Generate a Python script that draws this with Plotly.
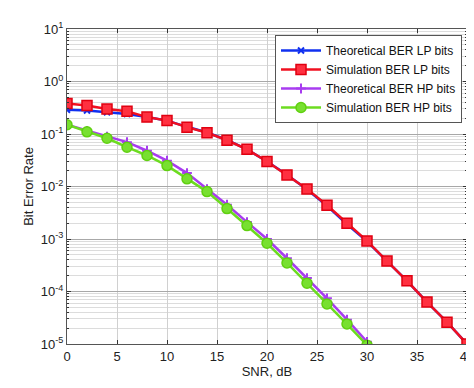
import plotly.graph_objects as go

snr_lp = list(range(0, 41, 2))
theo_lp = [0.29, 0.28, 0.26, 0.24, 0.21, 0.18, 0.137, 0.107, 0.077, 0.051, 0.030,
           0.0168, 0.0088, 0.0043, 0.0019, 9.0e-4, 3.8e-4, 1.6e-4, 6.3e-5, 2.6e-5, 1.0e-5]
sim_lp = [0.38, 0.35, 0.30, 0.27, 0.21, 0.18, 0.135, 0.106, 0.076, 0.051, 0.030,
          0.0166, 0.0090, 0.0044, 0.0020, 9.2e-4, 3.8e-4, 1.6e-4, 6.3e-5, 2.6e-5, 1.0e-5]

snr_hp = list(range(0, 31, 2))
theo_hp = [0.15, 0.115, 0.089, 0.070, 0.048, 0.031, 0.018, 0.0089, 0.0045, 0.0021,
           1.0e-3, 4.3e-4, 1.8e-4, 7.4e-5, 2.9e-5, 1.1e-5]
sim_hp = [0.15, 0.11, 0.083, 0.056, 0.039, 0.025, 0.014, 0.0080, 0.0038, 0.0018,
          8.3e-4, 3.5e-4, 1.44e-4, 5.8e-5, 2.4e-5, 9.5e-6]

x_ticks = [0, 5, 10, 15, 20, 25, 30, 35, 40]
y_tickvals = [1e-5, 1e-4, 1e-3, 1e-2, 1e-1, 1e0, 1e1]
y_ticktext = ["10<sup>-5</sup>", "10<sup>-4</sup>", "10<sup>-3</sup>", "10<sup>-2</sup>",
              "10<sup>-1</sup>", "10<sup>0</sup>", "10<sup>1</sup>"]

names = ["Theoretical BER LP bits", "Simulation BER LP bits",
         "Theoretical BER HP bits", "Simulation BER HP bits"]

fig = go.Figure()
fig.add_trace(go.Scatter(x=snr_lp, y=theo_lp, name=names[0], mode="lines+markers",
                         line=dict(color="#1030f0", width=2.5),
                         marker=dict(symbol="x-thin", size=6, line=dict(color="#1030f0", width=2))))
fig.add_trace(go.Scatter(x=snr_lp, y=sim_lp, name=names[1], mode="lines+markers",
                         line=dict(color="#f01020", width=2.5),
                         marker=dict(symbol="square", size=10, color="#ff3040",
                                     line=dict(color="#e00010", width=1.5))))
fig.add_trace(go.Scatter(x=snr_hp, y=theo_hp, name=names[2], mode="lines+markers",
                         line=dict(color="#a83cf0", width=2.5),
                         marker=dict(symbol="cross-thin", size=7, line=dict(color="#a83cf0", width=2))))
fig.add_trace(go.Scatter(x=snr_hp, y=sim_hp, name=names[3], mode="lines+markers",
                         line=dict(color="#6cdc20", width=2.5),
                         marker=dict(symbol="circle", size=10, color="#78e030",
                                     line=dict(color="#60d010", width=1.5))))

# page body has an 8px default margin, so the figure is sized to fit inside it
fig.update_layout(
    width=466, height=380,
    margin=dict(l=59, r=7, t=21, b=43.5),
    paper_bgcolor="white", plot_bgcolor="white",
    font=dict(family="Liberation Sans, Arial, sans-serif", size=13, color="#222"),
    legend=dict(x=0.9875, xanchor="right", y=0.981, yanchor="top",
                bgcolor="white", bordercolor="#555", borderwidth=1,
                font=dict(size=12, color="#111"), tracegroupgap=0,
                itemwidth=40),
    showlegend=True,
)
fig.update_xaxes(
    range=[0, 40], tickvals=x_ticks, ticks="inside", ticklen=4, tickcolor="#333",
    showline=True, linecolor="#555", linewidth=1, mirror="ticks",
    showgrid=True, gridcolor="#d0d0d0", gridwidth=1, zeroline=False,
    title=dict(text="SNR, dB", standoff=4, font=dict(size=13)),
    tickfont=dict(size=13), automargin=False, ticklabeloverflow="allow",
)
fig.update_yaxes(
    type="log", range=[-5, 1], tickvals=y_tickvals, ticktext=y_ticktext,
    ticks="inside", ticklen=4, tickcolor="#333",
    showline=True, linecolor="#555", linewidth=1, mirror="ticks",
    showgrid=True, gridcolor="#a8a8a8", gridwidth=1, zeroline=False,
    minor=dict(dtick="D1", ticks="inside", ticklen=2, tickcolor="#333",
               showgrid=True, gridcolor="#dcdcdc", gridwidth=1),
    title=dict(text="Bit Error Rate", standoff=4, font=dict(size=13)),
    tickfont=dict(size=13), automargin=False,
)

fig.write_html("out.html")
